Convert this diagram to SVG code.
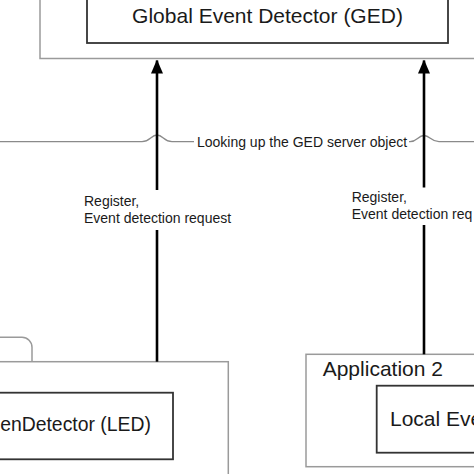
<svg xmlns="http://www.w3.org/2000/svg" width="474" height="474" viewBox="0 0 474 474">
<style>
.container{fill:#fff;stroke:#9a9a9a;stroke-width:1.5}
.inner{fill:#fff;stroke:#333;stroke-width:1.8}
.big{font-family:"Liberation Sans",Arial,sans-serif;font-size:21px;fill:#1a1a1a}
.small{font-family:"Liberation Sans",Arial,sans-serif;font-size:14px;fill:#1a1a1a}
.flow{fill:none;stroke:#000;stroke-width:2.6}
.lookup{fill:none;stroke:#8a8a8a;stroke-width:1.3}
</style>
<defs>
<marker id="ah" markerWidth="14" markerHeight="12" refX="13" refY="6" orient="auto" markerUnits="userSpaceOnUse" viewBox="0 0 14 12">
<path d="M0,0 L14,6 L0,12 Z" fill="#000"/>
</marker>
</defs>
<rect width="474" height="474" fill="#fff"/>
<g id="ged-server">
<rect class="container" x="40" y="-20" width="460" height="78.5"/>
<rect class="inner" x="87" y="-20" width="361" height="63"/>
<text class="big" x="267.5" y="22.5" text-anchor="middle">Global Event Detector (GED)</text>
</g>
<g id="application1">
<path class="container" d="M-5,337.3 H22 A10,10 0 0 1 32,347.3 V361.7"/>
<rect class="container" x="-20" y="361.7" width="248.3" height="130"/>
<rect class="inner" x="-20" y="392.7" width="193" height="66.6"/>
<text class="big" x="151" y="431" text-anchor="end" style="font-size:19.4px">enDetector (LED)</text>
</g>
<g id="application2">
<rect class="container" x="306" y="354.3" width="200" height="112.4"/>
<text class="big" x="322.7" y="376">Application 2</text>
<rect class="inner" x="376.7" y="385.7" width="130" height="67"/>
<text class="big" x="390" y="426">Local Eve</text>
</g>
<g id="connectors">
<path class="lookup" d="M0,141.7 H142 C150,141.7 151,135 157,135 C163,135 164,141.7 172,141.7 H194"/>
<path class="lookup" d="M409,141.7 H410 C417,141.7 418,135.5 424,135.5 C430,135.5 431,141.7 439,141.7 H474"/>
<text class="small" x="302" y="146.5" text-anchor="middle">Looking up the GED server object</text>
<path class="flow" d="M157,361.7 V230"/>
<path class="flow" d="M157,190 V60.5" marker-end="url(#ah)"/>
<text class="small" x="84" y="206">Register,</text>
<text class="small" x="84" y="222.5">Event detection request</text>
<path class="flow" d="M424,354.3 V225"/>
<path class="flow" d="M424,187.5 V60.5" marker-end="url(#ah)"/>
<text class="small" x="351.7" y="202">Register,</text>
<text class="small" x="351.7" y="218.5">Event detection req</text>
</g>
</svg>
